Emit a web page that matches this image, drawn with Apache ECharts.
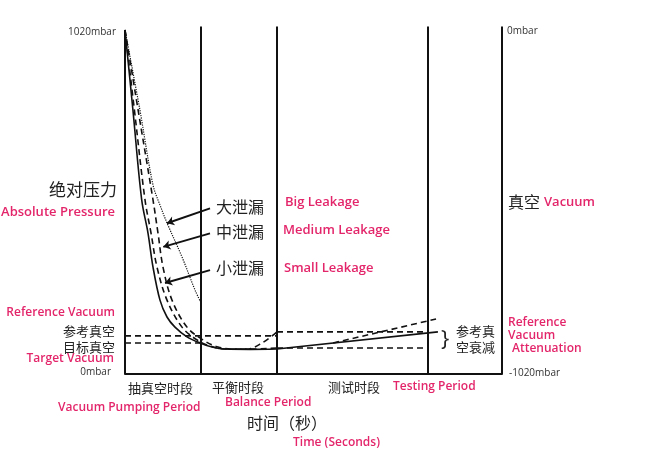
<!DOCTYPE html>
<html lang="zh">
<head>
    <meta charset="UTF-8">
    <title>真空测试曲线</title>
    <script src="https://cdn.jsdelivr.net/npm/echarts@6/dist/echarts.min.js"></script>
    <style>
        html, body { margin: 0; padding: 0; background: #fff; }
        #main { width: 650px; height: 459px; }
    </style>
</head>
<body>
<div id="main"></div>
<script>
    // 时间轴 0-100, 压力 0-1020 mbar
    var phaseX = [20.2, 40.3, 80.4, 100];
    var axisLeft = [[0, 0], [0, 1020]];

    // 三条抽真空曲线
    var solidCurve = [[0, 1020], [2.1, 783], [4.43, 516], [6.1, 418], [7.43, 317], [9.28, 219], [11.14, 169],
        [13.26, 139], [16.45, 110], [19.89, 92], [23.08, 80], [26.53, 74], [33.16, 73], [40.32, 74]];
    var dashCurveA = [[0, 1020], [2.49, 783], [5.31, 516], [6.9, 418], [8.49, 317], [11.14, 219], [15.12, 139],
        [19.1, 101], [22.55, 83], [26.53, 74], [33.16, 74], [40.32, 77]];
    var dashCurveB = [[0, 1020], [3.47, 783], [7.43, 516], [8.75, 418], [10.08, 317], [12.47, 219], [16.45, 139],
        [20.69, 101], [24.67, 80], [29.18, 74], [32.36, 74], [36.34, 92], [40.32, 125]];
    var dotCurve = [[0, 1020], [3.95, 783], [7.43, 560], [9.28, 501], [11.14, 448], [15.12, 347], [18.57, 249], [20.16, 211]];

    // 直线段
    var solidTail = [[40.32, 74], [83.0, 125]];
    var lowerTail = [[40.32, 77], [80.4, 77]];
    var upperTail = [[40.32, 125], [80.4, 125]];
    var refLeft = [[0, 113], [40.32, 113]];
    var targetLeft = [[0, 92], [19.9, 92]];
    var attenLine = [[55.2, 92], [82.5, 163]];

    // 箭头
    var arrows = [
        [[22.55, 491], [11.14, 447]],
        [[22.55, 417], [10.16, 377]],
        [[22.55, 308], [10.61, 270]]
    ];

    var PINK = '#e3266a';
    var CN = '"Noto Sans CJK SC", sans-serif';
    var EN = '"Open Sans", sans-serif';

    function txt(x, y, s, size, color, align, font, weight) {
        return {
            type: 'text', x: x, y: y, silent: true,
            style: {
                text: s, fill: color, align: align || 'left', verticalAlign: 'middle',
                font: (weight || 'normal') + ' ' + size + 'px ' + font
            }
        };
    }

    var labels = [
        txt(116, 32, '1020mbar', 10, '#333', 'right', EN),
        txt(117, 190, '绝对压力', 17, '#222', 'right', CN),
        txt(115, 212, 'Absolute Pressure', 13, PINK, 'right', EN, 600),
        txt(115, 313, 'Reference Vacuum', 12, PINK, 'right', EN, 600),
        txt(115, 331, '参考真空', 13, '#222', 'right', CN),
        txt(115, 347, '目标真空', 13, '#222', 'right', CN),
        txt(114, 359, 'Target Vacuum', 12, PINK, 'right', EN, 600),
        txt(111, 372, '0mbar', 10, '#333', 'right', EN),
        txt(128, 388, '抽真空时段', 13, '#222', 'left', CN),
        txt(58, 408, 'Vacuum Pumping Period', 12, PINK, 'left', EN, 600),
        txt(212, 387, '平衡时段', 13, '#222', 'left', CN),
        txt(225, 403, 'Balance Period', 12, PINK, 'left', EN, 600),
        txt(247, 423, '时间（秒）', 16, '#222', 'left', CN),
        txt(293, 443, 'Time (Seconds)', 12, PINK, 'left', EN, 600),
        txt(328, 387, '测试时段', 13, '#222', 'left', CN),
        txt(393, 387, 'Testing Period', 12, PINK, 'left', EN, 600),
        txt(507, 31, '0mbar', 10, '#333', 'left', EN),
        txt(508, 202, '真空', 16, '#222', 'left', CN),
        txt(544, 202, 'Vacuum', 13, PINK, 'left', EN, 600),
        txt(508, 323, 'Reference', 12, PINK, 'left', EN, 600),
        txt(508, 336, 'Vacuum', 12, PINK, 'left', EN, 600),
        txt(512, 349, 'Attenuation', 12, PINK, 'left', EN, 600),
        txt(509, 373, '-1020mbar', 10, '#333', 'left', EN),
        txt(456, 331, '参考真', 13, '#222', 'left', CN),
        txt(456, 347, '空衰减', 13, '#222', 'left', CN),
        txt(441, 340, '}', 22, '#222', 'left', EN),
        txt(216, 207, '大泄漏', 16, '#222', 'left', CN),
        txt(216, 232, '中泄漏', 16, '#222', 'left', CN),
        txt(216, 268, '小泄漏', 16, '#222', 'left', CN),
        txt(285, 202, 'Big Leakage', 13, PINK, 'left', EN, 600),
        txt(283, 230, 'Medium Leakage', 13, PINK, 'left', EN, 600),
        txt(284, 268, 'Small Leakage', 13, PINK, 'left', EN, 600)
    ];

    function seg(data, type, width, smooth) {
        return {
            type: 'line', data: data, symbol: 'none', smooth: smooth || false,
            silent: true, animation: false,
            lineStyle: { color: '#111', width: width, type: type }
        };
    }

    var chart = echarts.init(document.getElementById('main'));
    chart.setOption({
        animation: false,
        grid: { left: 125, right: 148, top: 26.6, bottom: 85 },
        xAxis: {
            type: 'value', min: 0, max: 100,
            axisLine: { show: true, lineStyle: { color: '#111', width: 2 } },
            axisTick: { show: false }, axisLabel: { show: false }, splitLine: { show: false }
        },
        yAxis: {
            type: 'value', min: 0, max: 1030,
            axisLine: { show: false }, axisTick: { show: false },
            axisLabel: { show: false }, splitLine: { show: false }
        },
        graphic: labels,
        series: [
            {
                type: 'line', data: axisLeft, symbol: 'none', silent: true,
                lineStyle: { color: '#111', width: 2 },
                markLine: {
                    symbol: 'none', silent: true, label: { show: false },
                    lineStyle: { color: '#111', width: 2, type: 'solid' },
                    data: phaseX.map(function (v) { return { xAxis: v }; })
                }
            },
            seg(solidCurve, 'solid', 1.6, 0.35),
            seg(dashCurveA, [6, 4], 1.6, 0.35),
            seg(dashCurveB, [6, 4], 1.6, 0.35),
            seg(dotCurve, [1.2, 1.2], 1.2, 0.35),
            seg(solidTail, 'solid', 1.6),
            seg(lowerTail, [6, 4], 1.6),
            seg(upperTail, [6, 4], 1.6),
            seg(refLeft, [6, 4], 1.6),
            seg(targetLeft, [6, 4], 1.6),
            seg(attenLine, [6, 4], 1.6),
            {
                type: 'lines', coordinateSystem: 'cartesian2d', silent: true,
                symbol: ['none', 'arrow'], symbolSize: 7,
                lineStyle: { color: '#111', width: 2, opacity: 1 },
                data: arrows.map(function (a) { return { coords: a }; })
            }
        ]
    });
</script>
</body>
</html>
